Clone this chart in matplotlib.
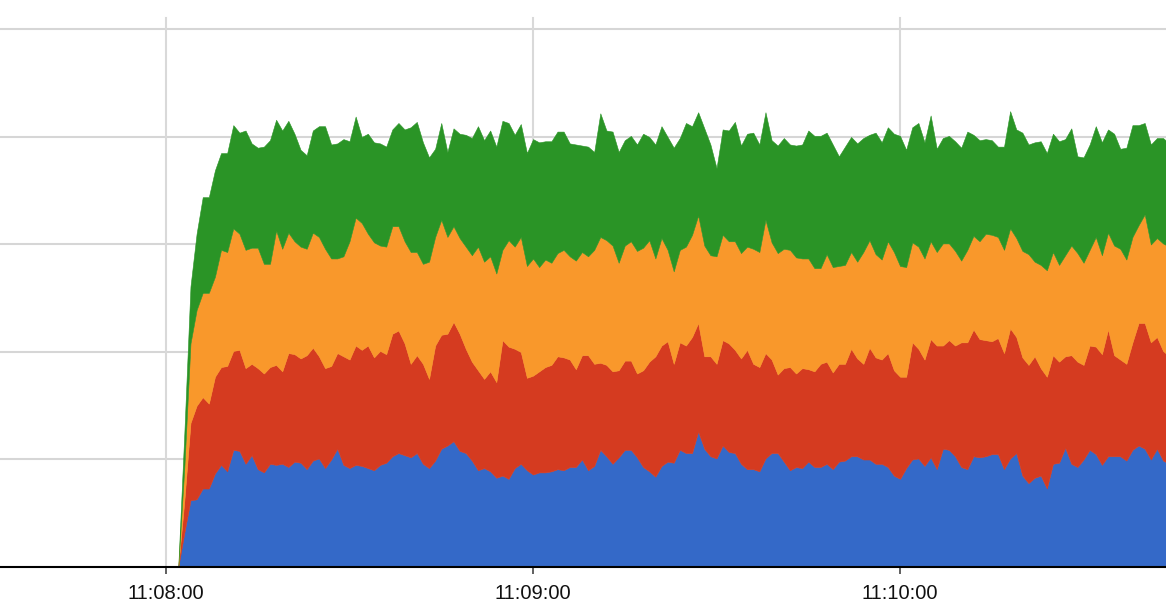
import numpy as np
import matplotlib
matplotlib.use("Agg")
import matplotlib.pyplot as plt

plt.rcParams['font.family'] = ['Liberation Sans', 'DejaVu Sans']

# seconds after 11:08:00, one sample per second
seconds = np.arange(2, 165)

blue = [
    0.0, 3.2, 6.2, 6.3, 7.3, 7.3, 8.7, 9.5, 8.9, 10.9,
    10.8, 9.6, 10.4, 9.1, 8.8, 9.6, 9.5, 9.6, 9.3, 9.8,
    9.7, 9.1, 9.9, 10.1, 9.2, 10.0, 11.0, 9.5, 9.2, 9.5,
    9.4, 9.2, 9.0, 9.5, 9.7, 10.3, 10.6, 10.4, 10.2, 10.6,
    9.6, 9.2, 9.9, 11.0, 11.3, 11.7, 10.8, 10.6, 9.9, 9.0,
    9.2, 8.9, 8.3, 8.5, 8.2, 9.2, 9.6, 9.0, 8.6, 8.8,
    8.8, 8.9, 9.1, 9.0, 9.3, 9.3, 10.0, 9.0, 9.4, 10.9,
    10.3, 9.6, 10.2, 10.9, 10.9, 10.2, 9.3, 8.9, 8.4, 9.4,
    9.8, 9.7, 10.9, 10.6, 10.6, 12.6, 11.0, 10.3, 10.1, 11.3,
    10.7, 10.6, 9.6, 9.1, 9.1, 8.9, 10.1, 10.6, 10.6, 9.8,
    9.0, 9.3, 9.2, 9.8, 9.3, 9.3, 9.6, 9.1, 9.8, 9.9,
    10.3, 10.3, 10.0, 10.0, 9.6, 9.6, 9.3, 8.5, 8.2, 9.2,
    10.0, 10.1, 9.4, 10.2, 9.1, 11.0, 10.9, 10.3, 9.3, 9.1,
    10.3, 10.2, 10.3, 10.5, 10.5, 9.1, 10.1, 10.6, 8.5, 7.8,
    8.3, 8.5, 7.3, 9.6, 9.7, 11.1, 9.6, 9.3, 10.0, 10.9,
    10.5, 9.5, 10.3, 10.3, 10.3, 9.9, 10.9, 11.3, 11.0, 10.0,
    11.0, 9.9, 9.6,
]

red = [
    0.0, 3.0, 7.2, 8.7, 8.5, 7.9, 9.0, 9.1, 9.8, 9.2,
    9.4, 8.9, 8.5, 9.4, 9.2, 9.0, 9.3, 8.6, 10.6, 10.0,
    9.7, 10.6, 10.5, 9.5, 9.3, 8.7, 8.9, 10.1, 10.1, 11.1,
    10.8, 11.4, 10.5, 10.6, 10.1, 11.4, 11.4, 10.4, 8.7, 9.1,
    9.3, 8.3, 10.7, 10.6, 10.4, 11.1, 10.9, 9.7, 9.2, 9.3,
    8.3, 9.3, 8.9, 12.6, 12.3, 11.1, 10.4, 8.6, 9.2, 9.4,
    9.8, 9.9, 10.5, 10.5, 10.0, 9.1, 9.7, 10.7, 9.5, 8.1,
    8.5, 8.6, 8.1, 8.3, 8.3, 7.8, 9.0, 10.2, 11.2, 11.2,
    11.2, 9.2, 10.0, 10.0, 10.8, 10.1, 8.6, 9.3, 8.8, 9.8,
    10.1, 9.6, 9.8, 11.1, 9.8, 9.7, 9.8, 8.7, 7.3, 8.7,
    9.6, 8.7, 9.3, 8.6, 8.9, 9.6, 9.5, 9.0, 9.1, 9.0,
    10.0, 9.1, 8.9, 10.4, 9.9, 9.7, 10.6, 9.8, 9.5, 8.5,
    10.9, 10.2, 9.9, 11.0, 11.5, 9.6, 10.2, 10.3, 11.6, 11.8,
    11.8, 11.0, 10.8, 10.5, 10.8, 10.8, 12.1, 10.8, 11.0, 11.0,
    11.3, 10.0, 10.4, 10.1, 9.4, 8.5, 10.1, 9.8, 8.8, 9.7,
    10.0, 10.3, 11.8, 9.4, 9.0, 9.0, 10.0, 11.4, 11.7, 10.9,
    10.4, 10.2, 10.0,
]

orange = [
    0.0, 3.1, 7.4, 8.9, 9.7, 10.3, 9.3, 10.9, 10.6, 11.4,
    10.8, 11.0, 10.8, 11.2, 10.2, 9.6, 12.5, 11.4, 11.2, 10.5,
    10.4, 9.9, 10.7, 11.1, 11.1, 10.0, 8.8, 9.3, 11.0, 11.9,
    11.8, 10.4, 10.7, 9.8, 10.0, 10.0, 9.7, 9.5, 10.4, 9.6,
    9.3, 10.9, 10.1, 10.7, 9.0, 8.9, 8.9, 9.5, 9.9, 11.5,
    10.9, 10.7, 10.1, 8.4, 9.9, 9.5, 10.7, 10.4, 10.9, 9.7,
    10.0, 9.5, 9.6, 10.0, 9.6, 10.1, 9.6, 9.2, 10.6, 11.7,
    11.6, 11.7, 10.0, 10.7, 11.1, 11.4, 11.4, 11.3, 9.1, 10.0,
    8.5, 8.6, 8.6, 9.2, 9.5, 10.0, 10.3, 9.4, 10.0, 9.8,
    9.5, 10.1, 9.8, 9.6, 10.7, 10.7, 12.4, 10.9, 11.3, 11.1,
    10.9, 10.8, 10.2, 10.3, 9.6, 8.9, 10.0, 9.8, 9.1, 9.2,
    9.0, 9.0, 10.4, 10.0, 9.6, 9.3, 10.4, 11.0, 10.3, 10.2,
    9.3, 9.5, 9.4, 9.1, 8.7, 9.5, 9.0, 8.8, 7.6, 8.6,
    8.7, 9.1, 9.9, 9.9, 9.4, 9.6, 9.3, 9.2, 9.9, 10.3,
    8.8, 9.6, 9.9, 9.6, 9.0, 9.4, 10.2, 10.1, 9.5, 8.9,
    10.2, 9.2, 9.0, 10.2, 10.3, 9.7, 9.8, 9.1, 10.1, 9.1,
    9.2, 10.0, 10.2,
]

green = [
    0.0, 3.2, 5.3, 7.1, 8.9, 8.9, 9.9, 9.0, 9.2, 9.6,
    9.4, 11.1, 9.7, 9.3, 10.9, 11.5, 10.3, 11.0, 10.4, 10.0,
    9.0, 8.7, 9.5, 10.3, 11.4, 10.6, 10.7, 10.9, 9.3, 9.4,
    8.0, 9.3, 9.3, 9.5, 9.3, 9.0, 9.6, 10.4, 11.6, 12.1,
    11.3, 9.7, 8.2, 9.0, 7.9, 9.1, 9.7, 10.4, 10.9, 11.2,
    11.3, 11.7, 11.8, 12.0, 10.9, 10.4, 10.5, 10.5, 11.1, 11.6,
    11.0, 11.3, 11.3, 11.0, 10.5, 10.8, 9.9, 10.2, 9.1, 11.5,
    10.2, 10.6, 10.3, 9.8, 9.8, 9.9, 10.6, 9.6, 10.6, 10.4,
    10.5, 11.5, 10.4, 11.5, 10.1, 9.6, 10.9, 10.3, 8.2, 9.8,
    10.3, 11.1, 10.0, 10.5, 10.8, 10.0, 10.0, 9.5, 10.0, 10.3,
    9.8, 10.4, 10.6, 11.9, 12.3, 12.3, 11.3, 11.4, 10.2, 11.0,
    10.7, 11.0, 10.6, 9.8, 11.3, 10.9, 10.6, 11.0, 12.1, 10.9,
    10.7, 11.5, 10.8, 11.7, 9.6, 9.8, 10.0, 10.2, 10.5, 11.0,
    9.4, 9.4, 8.8, 8.8, 8.4, 9.6, 10.9, 10.1, 11.0, 10.2,
    11.1, 11.5, 10.9, 11.0, 11.5, 10.8, 10.9, 9.0, 9.8, 9.8,
    10.3, 10.5, 9.6, 10.4, 9.3, 10.4, 10.4, 9.3, 8.5, 9.3,
    9.3, 9.8, 9.6,
]

colors = ['#3469c8', '#d53b20', '#f9982b', '#2a9426']

tick_pos = [0, 60, 120]
tick_labels = ['11:08:00', '11:09:00', '11:10:00']
grid_levels = [10, 20, 30, 40, 50]

fig = plt.figure(figsize=(11.66, 6.12), dpi=100)
ax = fig.add_axes([0, 45 / 612, 1, 567 / 612])

for lvl in grid_levels:
    ax.axhline(lvl, color='#d6d6d6', lw=1.5, zorder=0)
for xp in tick_pos:
    ax.axvline(xp, ymax=0.968, color='#d9d9d9', lw=1.5, zorder=0)

polys = ax.stackplot(seconds, blue, red, orange, green, colors=colors, zorder=2)
for p, c in zip(polys, colors):
    p.set_edgecolor(c)
    p.set_linewidth(0.4)

ax.set_xlim(-27.14, 163.48)
ax.set_ylim(0, 52.74)

for side in ['top', 'left', 'right']:
    ax.spines[side].set_visible(False)
ax.spines['bottom'].set_color('black')
ax.spines['bottom'].set_linewidth(1.5)
ax.spines['bottom'].set_zorder(3)

ax.set_yticks([])
ax.set_xticks(tick_pos, tick_labels)
ax.tick_params(axis='x', length=5, width=1.2, color='#444444', pad=7.5,
               labelsize=14.5, labelcolor='#111111')

fig.savefig('out.png', dpi=100)
